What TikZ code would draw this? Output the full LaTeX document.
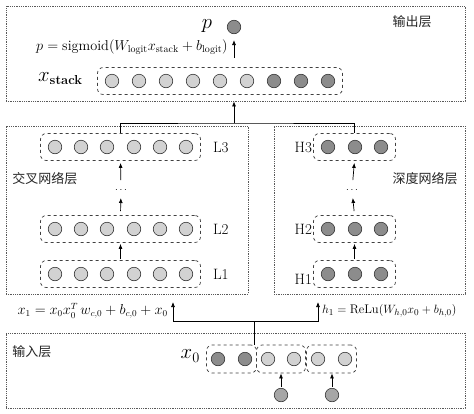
\documentclass[tikz,border=0pt]{standalone}
\usepackage{fontspec}
\newfontfamily\cjk{Noto Sans CJK SC}
\usetikzlibrary{arrows.meta,fit,calc}
\definecolor{lightc}{HTML}{D2D2D2}
\definecolor{darkc}{HTML}{8C8C8C}
\definecolor{midc}{HTML}{A6A6A6}
\begin{document}
\begin{tikzpicture}[x=1pt,y=-1pt,
  cbase/.style={circle,draw=black!80,line width=0.6pt,minimum size=13.5pt,inner sep=0pt},
  lc/.style={cbase,fill=lightc},
  dc/.style={cbase,fill=darkc},
  mc/.style={cbase,fill=midc},
  layer/.style={draw=black!65,densely dotted,line width=0.8pt,inner sep=0pt},
  grp/.style={draw=black!75,dashed,line width=0.7pt,rounded corners=6pt,inner xsep=7.5pt,inner ysep=6.5pt},
  sgrp/.style={grp,inner xsep=4.5pt,inner ysep=7pt},
  arr/.style={-{Latex[length=5pt,width=4pt]},line width=0.7pt},
  con/.style={line width=0.7pt},
  cn/.style={font=\cjk\fontsize{13}{15}\selectfont,inner sep=0pt,text=black!85},
  lab/.style={font=\fontsize{15}{17}\selectfont,inner sep=0pt},
  big/.style={font=\fontsize{20}{22}\selectfont,inner sep=0pt},
  frm/.style={inner sep=0pt}]
\useasboundingbox (0,0) rectangle (474,413);
\fill[white] (0,0) rectangle (474,413);

% layer boxes
\coordinate (o1) at (6,6); \coordinate (o2) at (465,101);
\node[layer,fit=(o1)(o2)] (outbox) {};
\coordinate (c1) at (6,126); \coordinate (c2) at (248,294);
\node[layer,fit=(c1)(c2)] (crossbox) {};
\coordinate (d1) at (274,126); \coordinate (d2) at (465,294);
\node[layer,fit=(d1)(d2)] (deepbox) {};
\coordinate (i1) at (6,333); \coordinate (i2) at (465,408);
\node[layer,fit=(i1)(i2)] (inbox) {};

\node[cn] (tout) at (412,22) {输出层};
\node[cn] (tcross) at (45,179) {交叉网络层};
\node[cn] (tdeep) at (425,179) {深度网络层};
\node[cn] (tin) at (32,352) {输入层};

% output layer
\node[dc] (pc) at (234,27) {};
\node[font=\fontsize{21}{23}\selectfont,inner sep=0pt] (pl) at (207,26) {$p$};
\node[frm,font=\fontsize{14.3}{17}\selectfont,anchor=west] (pf) at (36,47) {$p=\mathrm{sigmoid}(W_{\mathrm{logit}}x_{\mathrm{stack}}+b_{\mathrm{logit}})$};
\foreach \i/\x in {1/112,2/139,3/166,4/193,5/220,6/247}{\node[lc] (s\i) at (\x,81) {};}
\foreach \i/\x in {7/274,8/301,9/328}{\node[dc] (s\i) at (\x,81) {};}
\node[grp,fit=(s1)(s9)] (xsbox) {};
\node[font=\fontsize{22}{24}\selectfont,inner sep=0pt,anchor=west] (xsl) at (38,79) {$x_{\hbox{\fontsize{13}{13}\selectfont\bfseries stack}}$};
\draw[arr,shorten <=9pt,shorten >=6pt] (pc |- xsbox.north) -- (pc);

% cross network
\foreach \r/\y in {1/274,2/229,3/147}{
  \foreach \i/\x in {1/55,2/81,3/107,4/134,5/160,6/186}{\node[lc] (l\r\i) at (\x,\y) {};}
  \node[grp,fit=(l\r1)(l\r6)] (L\r) {};
  \node[lab,anchor=west] (Ll\r) at ($(L\r.east)+(12,0)$) {L\r};
}
\node[inner sep=0pt] (ldots) at (121,190) {$\cdots$};
\draw[arr,shorten <=1pt,shorten >=1pt] (L1.north) -- (L2.south);
\draw[arr,shorten <=4pt,shorten >=8pt] (L2.north) -- (ldots.center);
\draw[arr,shorten <=10pt,shorten >=2pt] (ldots.center) -- (L3.south);

% deep network
\foreach \r/\y in {1/274,2/229,3/147}{
  \foreach \i/\x in {1/328,2/355,3/381}{\node[dc] (h\r\i) at (\x,\y) {};}
  \node[grp,fit=(h\r1)(h\r3)] (H\r) {};
  \node[lab,anchor=east] (Hl\r) at ($(H\r.west)+(-1,\ifnum\r=1 5\else 0\fi)$) {H\r};
}
\node[inner sep=0pt] (hdots) at (352,190) {$\cdots$};
\draw[arr,shorten <=1pt,shorten >=1pt] (H1.north) -- (H2.south);
\draw[arr,shorten <=4pt,shorten >=8pt] (H2.north) -- (hdots.center);
\draw[arr,shorten <=10pt,shorten >=2pt] (hdots.center) -- (H3.south);

% merge into output
\coordinate (jt) at (234,123);
\draw[con] (L3.north) |- (jt) -| (H3.north);
\draw[arr] (jt) -- (jt |- outbox.south);

% input layer
\foreach \i/\x in {1/218,2/245}{\node[dc] (x\i) at (\x,359) {};}
\foreach \i/\x in {3/268,4/294,5/318,6/345}{\node[lc] (x\i) at (\x,359) {};}
\node[sgrp,fit=(x1)(x2)] (g1) {};
\node[sgrp,fit=(x3)(x4)] (g2) {};
\node[sgrp,fit=(x5)(x6)] (g3) {};
\node[big,anchor=east] (x0l) at (200,356) {$x_0$};
\node[mc] (e1) at (281,395) {};
\node[mc] (e2) at (332,395) {};
\draw[arr,shorten <=1pt] (e1) -- (e1 |- g2.south);
\draw[arr,shorten <=1pt] (e2) -- (e2 |- g3.south);

\coordinate (jb) at (254,321);
\coordinate (ca) at (173,302);
\coordinate (da) at (318,302);
\draw[con] (jb |- g1.north) -- (jb);
\draw[arr] (jb) -| (ca);
\draw[arr] (jb) -| (da);
\node[frm,font=\fontsize{13.3}{15}\selectfont,anchor=east] (f1) at (168,311) {$x_1=x_0x_0^T\,w_{c,0}+b_{c,0}+x_0$};
\node[frm,font=\fontsize{12.5}{14}\selectfont,anchor=west] (f2) at (322,311) {$h_1=\mathrm{ReLu}(W_{h,0}x_0+b_{h,0})$};
\end{tikzpicture}
\end{document}
